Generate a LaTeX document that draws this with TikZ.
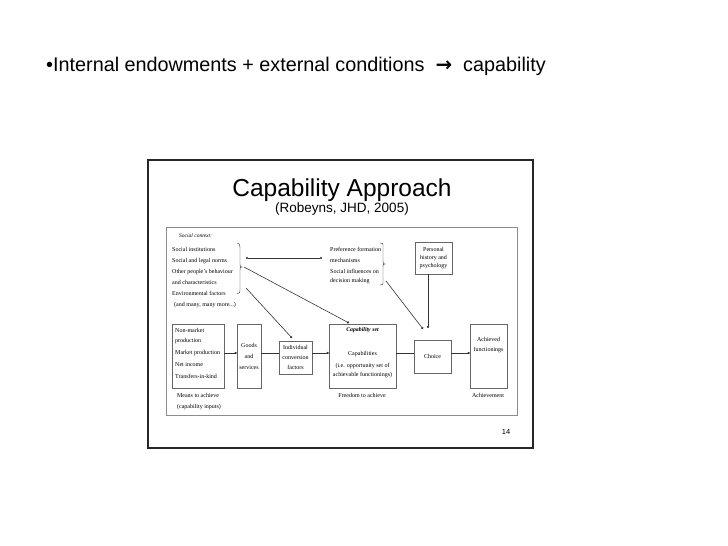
\documentclass[tikz,border=0pt]{standalone}
\usepackage{fontspec}
\setmainfont{Liberation Serif}
\newfontfamily\arial{Liberation Sans}
\newfontfamily\djv{DejaVu Sans}
\usetikzlibrary{arrows.meta}
\begin{document}
\begin{tikzpicture}[x=1pt,y=-1pt,
  sm/.style={font=\fontsize{6}{7}\selectfont,inner sep=0pt,align=center},
  bx/.style={draw=black!60,line width=0.5pt,fill=white},
  con/.style={draw=black!80,line width=0.6pt},
  arr/.style={con,-{Circle[length=2.2pt]}}]
\useasboundingbox (0,0) rectangle (728,546);
\node[anchor=west,inner sep=0pt,font=\arial\fontsize{19.8}{22}\selectfont] (hd) at (46,66) {\textbullet Internal endowments + external conditions \ {\djv\bfseries→}\ \ capability};
\draw[line width=1.6pt,draw=black!85] (148,160) rectangle (533,448);
\node[font=\arial\fontsize{24.5}{27}\selectfont,inner sep=0pt] (title) at (342,190) {Capability Approach};
\node[font=\arial\fontsize{13.5}{15}\selectfont,inner sep=0pt] (sub) at (342,209) {(Robeyns, JHD, 2005)};
\draw[draw=black!45,line width=0.6pt] (166,227) rectangle (517,415);
% social context
\node[sm,anchor=west,font=\itshape\fontsize{5.5}{6}\selectfont] (sc) at (179,236) {Social context:};
\node[sm,anchor=west] (s1) at (172,249) {Social institutions};
\node[sm,anchor=west] (s2) at (172,261) {Social and legal norms};
\node[sm,anchor=west] (s3) at (172,272) {Other people's behaviour};
\node[sm,anchor=west] (s4) at (172,282) {and characteristics};
\node[sm,anchor=west] (s5) at (172,293) {Environmental factors};
\node[sm,anchor=west] (s6) at (174,305) {(and many, many more...)};
\draw[con,line width=0.4pt] (237,243) .. controls (240,243) and (240,246) .. (240,250) -- (240,264) .. controls (240,267) .. (242,267) .. controls (240,267) .. (240,270) -- (240,288) .. controls (240,292) and (240,294) .. (237,294);
% preference
\node[sm,anchor=west] (p1) at (330,249) {Preference formation};
\node[sm,anchor=west] (p2) at (330,260) {mechanisms};
\node[sm,anchor=west] (p3) at (330,271) {Social influences on};
\node[sm,anchor=west] (p4) at (330,281) {decision making};
\draw[con,line width=0.4pt] (380,243) .. controls (383,243) .. (383,247) -- (383,261) .. controls (383,264) .. (385,264) .. controls (383,264) .. (383,267) -- (383,281) .. controls (383,285) .. (380,285);
\coordinate (pl) at (246,258);
\coordinate (pr) at (322,258);
\draw[con,{Circle[length=2pt]}-{Circle[length=2pt]}] (pl) -- (pr);
\node[bx,sm,minimum width=37pt,minimum height=32pt] (pers) at (433.5,258) {Personal\\[1pt]history and\\[1pt]psychology};
% bottom row
\node[bx,minimum width=52pt,minimum height=64pt] (means) at (198,356) {};
\node[sm,anchor=north west,align=left] (mt) at (175,328) {Non-market\\[3pt]production\\[5pt]Market production\\[5pt]Net income\\[5pt]Transfers-in-kind};
\node[bx,sm,minimum width=24pt,minimum height=64pt] (goods) at (249,356) {Goods\\[4pt]and\\[4pt]services};
\node[bx,sm,minimum width=33pt,minimum height=33pt] (indiv) at (295.5,357.5) {Individual\\[3pt]conversion\\[3pt]factors};
\node[bx,minimum width=67pt,minimum height=64pt] (cap) at (362.5,356) {};
\node[sm,font=\bfseries\itshape\fontsize{5.8}{6.5}\selectfont] (capt) at (362.5,330) {Capability set};
\node[sm] (capb) at (362.5,365) {Capabilities\\[5pt](i.e. opportunity set of\\[2pt]achievable functionings)};
\node[bx,sm,minimum width=37pt,minimum height=33pt] (choice) at (432.5,356.5) {Choice};
\node[bx,minimum width=37pt,minimum height=64pt] (ach) at (488.5,356) {};
\node[sm] (acht) at (488.5,345) {Achieved\\[3pt]functionings};
\node[sm] (l1) at (198,395) {Means to achieve};
\node[sm] (l2) at (199,407) {(capability inputs)};
\node[sm] (l3) at (362,395) {Freedom to achieve};
\node[sm] (l4) at (488,395) {Achievement};
\draw[arr] (means.east|-0,353) -- (goods.west|-0,353);
\draw[con] (goods.east|-0,353) -- (indiv.west|-0,353);
\draw[arr] (indiv.east|-0,353) -- (cap.west|-0,353);
\draw[con] (cap.east|-0,353) -- (choice.west|-0,353);
\draw[arr] (choice.east|-0,353) -- (ach.west|-0,353);
% diagonals
\coordinate (d1) at (244,267);
\coordinate (d2) at (246,288);
\coordinate (d3) at (386,281);
\draw[arr] (d1) -- (349,323);
\draw[arr] (d2) -- (292,338);
\draw[arr] (d3) -- (423,329);
\draw[arr] (pers.south-|428,0) -- (428,328);
\node[font=\arial\fontsize{7.5}{8}\selectfont,inner sep=0pt] (pg) at (506,432) {14};
\end{tikzpicture}
\end{document}
